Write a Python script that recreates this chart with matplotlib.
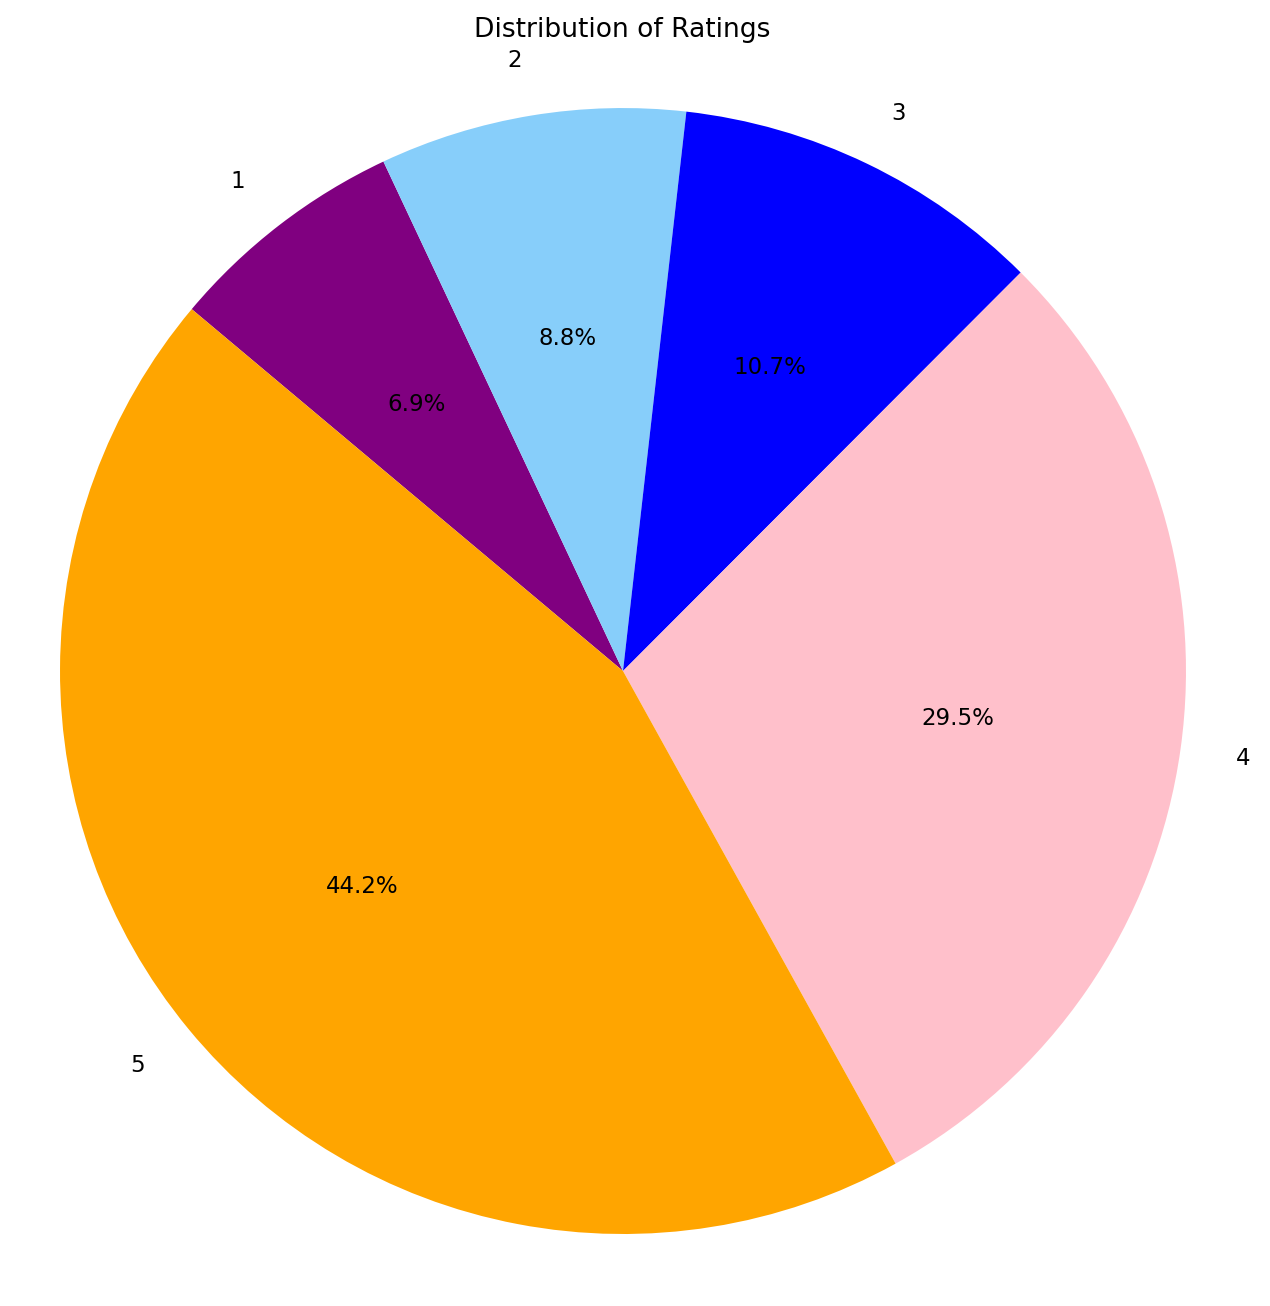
import matplotlib
matplotlib.use("Agg")
import matplotlib.pyplot as plt

ratings = ["1", "2", "3", "4", "5"]
shares = [6.9, 8.8, 10.7, 29.5, 44.2]
colors = ["purple", "lightskyblue", "blue", "pink", "orange"]

fig = plt.figure(figsize=(10, 10.291), dpi=127)
cx, cy, r = 623, 672, 563
ax = fig.add_axes([(cx - r) / 1270, (1307 - cy - r) / 1307, 2 * r / 1270, 2 * r / 1307])
ax.pie(shares, labels=ratings, colors=colors, autopct="%1.1f%%",
       startangle=140, counterclock=False, textprops={"fontsize": 13})
ax.set_xlim(-1, 1)
ax.set_ylim(-1, 1)
ax.set_aspect("equal")
fig.text(0.49, 1 - 30 / 1307, "Distribution of Ratings", ha="center", va="center", fontsize=15)
fig.savefig("out.png")
